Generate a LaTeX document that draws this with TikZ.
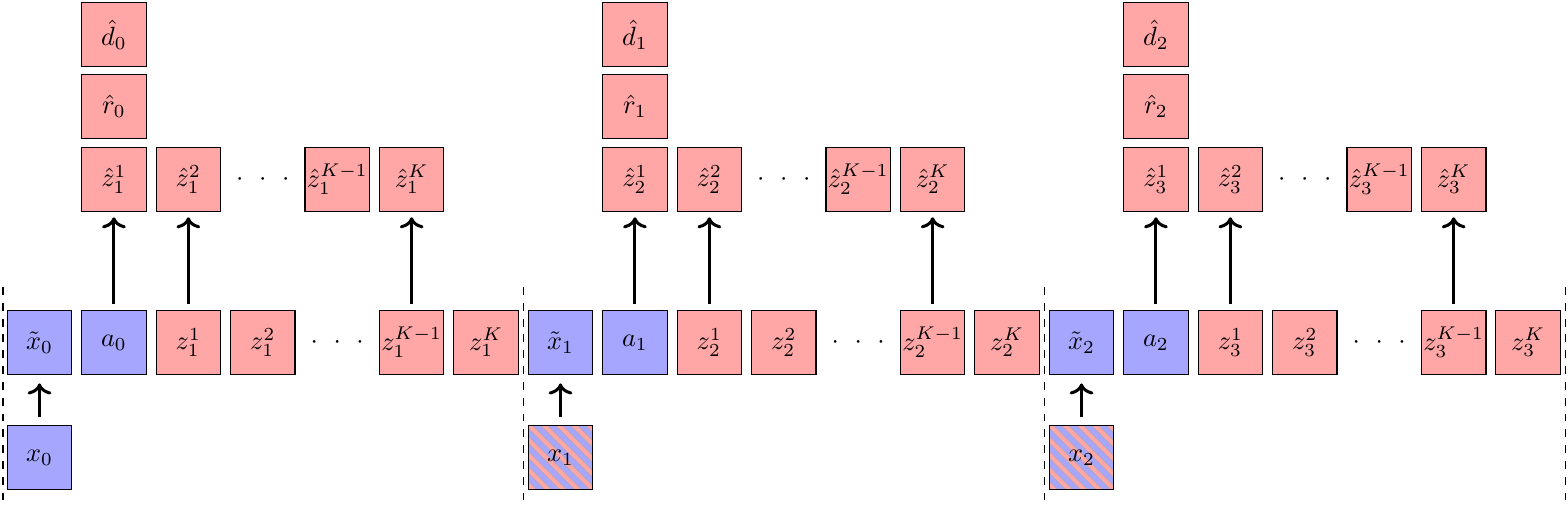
\documentclass[tikz,border=0pt]{standalone}
\usetikzlibrary{arrows.meta}
\definecolor{boxred}{RGB}{255,166,166}
\definecolor{boxblue}{RGB}{166,166,255}
\tikzset{
  cell/.style={draw=black, line width=0.45pt, minimum size=0.86cm, inner sep=0pt, outer sep=0pt},
  redcell/.style={cell, fill=boxred},
  bluecell/.style={cell, fill=boxblue},
  stripecell/.style={cell, fill=boxred, path picture={
      \foreach \k in {-7,...,7}{
        \draw[black!35, line width=0.2pt, double=boxblue, double distance=0.066cm]
          ([shift={(\k*15+8-60,-60)}]path picture bounding box.center) --
          ([shift={(\k*15+8+60,60)}]path picture bounding box.center);
      }}},
  uparrow/.style={line width=1.15pt, -{Computer Modern Rightarrow[width=9pt,length=4.2pt]}, shorten >=2.1pt, shorten <=2.2pt},
  lowarrow/.style={uparrow, shorten >=3.3pt, shorten <=3.1pt},
  sep/.style={dashed, line width=0.4pt},
  dotstext/.style={inner sep=0pt}
}
\begin{document}
\begin{tikzpicture}[x=0.013333cm, y=-0.013333cm]
\useasboundingbox (0,0) rectangle (1568,510);
% separators
\foreach \s in {0,...,3}{
  \coordinate (st\s) at ({3+\s*520.7},287);
  \coordinate (sb\s) at ({3+\s*520.7},506);
  \draw[sep] (st\s) -- (sb\s);
}
\foreach \s in {0,1,2}{
  \pgfmathsetmacro{\ox}{39.5+\s*521}
  \pgfmathtruncatemacro{\n}{\s+1}
  % top column
  \node[redcell] (d\s) at ({\ox+1*74.43},34.5) {$\hat{d}_{\s}$};
  \node[redcell] (r\s) at ({\ox+1*74.43},106.5) {$\hat{r}_{\s}$};
  % hat row
  \node[redcell] (ha\s) at ({\ox+1*74.43},179.5) {$\hat{z}_{\n}^{1}$};
  \node[redcell] (hb\s) at ({\ox+2*74.43},179.5) {$\hat{z}_{\n}^{2}$};
  \node[dotstext] (hdots\s) at ({\ox+3*74.43},179.5) {$\cdot\hspace{3.7pt}\cdot\hspace{3.7pt}\cdot$};
  \node[redcell] (hc\s) at ({\ox+4*74.43},179.5) {$\hat{z}_{\n}^{K-1}$};
  \node[redcell] (hd\s) at ({\ox+5*74.43},179.5) {$\hat{z}_{\n}^{K}$};
  % main row
  \node[bluecell] (xt\s) at ({\ox},342.5) {$\tilde{x}_{\s}$};
  \node[bluecell] (a\s) at ({\ox+1*74.43},342.5) {$a_{\s}$};
  \node[redcell] (za\s) at ({\ox+2*74.43},342.5) {$z_{\n}^{1}$};
  \node[redcell] (zb\s) at ({\ox+3*74.43},342.5) {$z_{\n}^{2}$};
  \node[dotstext] (zdots\s) at ({\ox+4*74.43},342.5) {$\cdot\hspace{3.7pt}\cdot\hspace{3.7pt}\cdot$};
  \node[redcell] (zc\s) at ({\ox+5*74.43},342.5) {$z_{\n}^{K-1}$};
  \node[redcell] (zd\s) at ({\ox+6*74.43},342.5) {$z_{\n}^{K}$};
  % input
  \ifnum\s=0
    \node[bluecell] (x\s) at ({\ox},457.5) {$x_{\s}$};
  \else
    \node[stripecell] (x\s) at ({\ox},457.5) {$x_{\s}$};
  \fi
  % arrows
  \draw[uparrow] (a\s) -- (ha\s);
  \draw[uparrow] (za\s) -- (hb\s);
  \draw[uparrow] (zc\s) -- (hd\s);
  \draw[lowarrow] (x\s) -- (xt\s);
}
\end{tikzpicture}
\end{document}
